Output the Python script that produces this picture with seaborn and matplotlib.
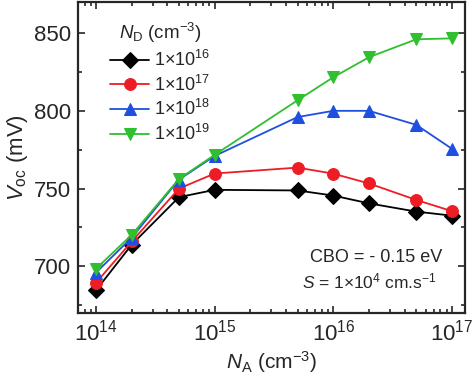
import matplotlib
matplotlib.use("Agg")
import matplotlib.pyplot as plt
import matplotlib.transforms as mtransforms
import seaborn as sns
import numpy as np
import pandas as pd
from matplotlib.ticker import MultipleLocator, LogLocator

NA = [1e14, 2e14, 5e14, 1e15, 5e15, 1e16, 2e16, 5e16, 1e17]
voc_1e16 = [684.6, 714.0, 744.5, 749.2, 748.8, 745.5, 740.5, 735.2, 732.6]
voc_1e17 = [689.5, 716.0, 750.0, 759.7, 763.5, 759.6, 753.3, 742.7, 735.5]
voc_1e18 = [696.0, 718.5, 755.8, 771.0, 796.0, 800.0, 800.0, 791.0, 775.6]
voc_1e19 = [698.5, 720.3, 756.2, 771.7, 806.8, 821.6, 834.5, 846.0, 846.6]
labels = [r"1$\times$10$^{16}$", r"1$\times$10$^{17}$", r"1$\times$10$^{18}$", r"1$\times$10$^{19}$"]
colors = ["black", "#ee1c24", "#1f4fe0", "#2fbf2f"]
markers = ["D", "o", "^", "v"]
sizes = [8, 8.5, 9, 9]

sns.set_theme(style="ticks")
plt.rcParams['font.family'] = ['Liberation Sans', 'DejaVu Sans']
plt.rcParams['mathtext.fontset'] = 'custom'
plt.rcParams['mathtext.rm'] = 'Liberation Sans'
plt.rcParams['mathtext.it'] = 'Liberation Sans:italic'
plt.rcParams['mathtext.default'] = 'regular'

fig = plt.figure(figsize=(4.74, 3.81), dpi=100)
ax = fig.add_axes([0.1646, 0.1785, 0.8164, 0.8163])

series = [voc_1e16, voc_1e17, voc_1e18, voc_1e19]
for vals, lab, c, m, s in zip(series, labels, colors, markers, sizes):
    sns.lineplot(x=NA, y=vals, ax=ax, color=c, marker=m, markersize=s,
                 markeredgecolor=c, linewidth=1.3, label=lab)

ax.set_xscale("log")
ax.set_xlim(10**13.848, 10**17.11)
ax.set_ylim(670, 870)
ax.yaxis.set_major_locator(MultipleLocator(50))
ax.yaxis.set_minor_locator(MultipleLocator(25))
ax.xaxis.set_major_locator(LogLocator(base=10, numticks=10))
ax.xaxis.set_minor_locator(LogLocator(base=10, subs=np.arange(2, 10), numticks=20))
ax.tick_params(which='both', direction='in', top=True, right=True, width=1.2)
ax.tick_params(which='major', length=5, labelsize=16, pad=5)
ax.tick_params(which='minor', length=3)
ax.set_yticks([700, 750, 800, 850])
for sp in ax.spines.values():
    sp.set_linewidth(1.6)

ax.set_xlabel(r"$\mathit{N}_\mathrm{A}$ (cm$^{-3}$)", fontsize=15, labelpad=2)
ax.set_ylabel(r"$\mathit{V}_\mathrm{oc}$ (mV)", fontsize=16, labelpad=3)

leg = ax.legend(loc='upper left', bbox_to_anchor=(0.04, 0.99), frameon=False,
                fontsize=13, title=r"$\mathit{N}_\mathrm{D}$ (cm$^{-3}$)",
                title_fontsize=13.5, handlelength=2.2, handletextpad=0.25,
                labelspacing=0.25)

trans = mtransforms.blended_transform_factory(ax.transAxes, ax.transData)
ax.text(0.94, 705.8, "CBO = - 0.15 eV", transform=trans, ha='right',
        va='center', fontsize=13)
ax.text(0.928, 690.4, r"$\mathit{S}$ = 1$\times$10$^{4}$ cm.s$^{-1}$", transform=trans,
        ha='right', va='center', fontsize=12.5)

fig.savefig("out.png", dpi=100)
